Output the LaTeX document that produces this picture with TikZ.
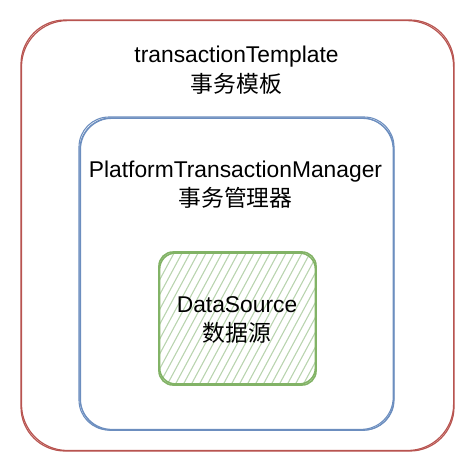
\documentclass[tikz,border=0pt]{standalone}
\usepackage{fontspec}
\setmainfont{Liberation Sans}
\newfontfamily\cjk{Noto Sans CJK SC}
\definecolor{redline}{RGB}{184,84,80}
\definecolor{blueline}{RGB}{108,142,191}
\definecolor{greenline}{RGB}{130,179,102}
\definecolor{hatch}{RGB}{185,212,175}
\tikzset{
  lbl/.style={anchor=base, inner sep=0pt, font=\fontsize{22.8}{28}\selectfont, text=black},
  clbl/.style={anchor=base, inner sep=0pt, font=\cjk\fontsize{22.8}{28}\selectfont, text=black},
  redbox/.style={draw=redline, line width=1.2pt},
  bluebox/.style={draw=blueline, line width=1.1pt},
  greenbox/.style={draw=greenline, line width=1.6pt},
}
\begin{document}
\begin{tikzpicture}[x=1pt,y=-1pt]
\useasboundingbox (0,0) rectangle (474,474);
% outer red box (sketchy double stroke)
\draw[redbox, rounded corners=44pt] (21,20) rectangle (454,451);
\draw[redbox, rounded corners=46pt] (21.5,20.6) rectangle (453.6,450.5);
% blue box
\draw[bluebox, rounded corners=30pt] (79,117) rectangle (394,430);
\draw[bluebox, rounded corners=32pt] (79.8,117.8) rectangle (393.2,429.4);
\draw[bluebox, rounded corners=31pt] (80.5,118.4) rectangle (393.7,430.3);
% green hatched box
\begin{scope}
\clip[rounded corners=14pt] (159,252) rectangle (316,385);
\foreach \i in {-120,-112,...,260} {
  \draw[hatch, line width=1.1pt] (159+\i,385) -- ++(140,-260);
}
\end{scope}
\draw[greenbox, rounded corners=14pt] (159,252) rectangle (316,385);
\draw[greenbox, rounded corners=16pt] (159.6,253) rectangle (315.4,384);
% labels
\node[lbl] (tt) at (236.5,62) {transactionTemplate};
\node[clbl] (ttc) at (236.5,92) {事务模板};
\node[lbl] (ptm) at (235.5,177) {PlatformTransactionManager};
\node[clbl] (ptmc) at (235.5,206) {事务管理器};
\node[lbl] (ds) at (237,312) {DataSource};
\node[clbl] (dsc) at (237,341) {数据源};
\end{tikzpicture}
\end{document}
